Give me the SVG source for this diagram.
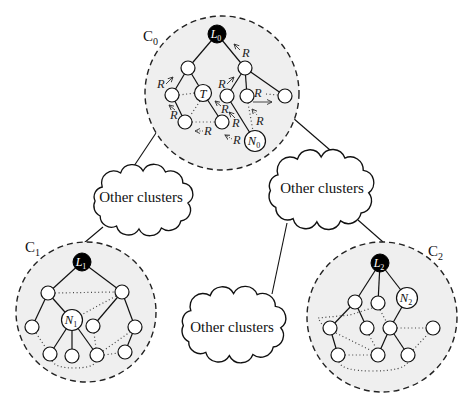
<svg xmlns="http://www.w3.org/2000/svg" width="474" height="410" viewBox="0 0 474 410">
<style>
.cl{fill:#efefef;stroke:#222;stroke-width:1.4;stroke-dasharray:6 4}
.e{stroke:#111;stroke-width:1.2;fill:none}
.d{stroke:#444;stroke-width:1.2;stroke-dasharray:1 2.6;fill:none}
.c{stroke:#111;stroke-width:1.1;fill:none}
.n{fill:#fff;stroke:#111;stroke-width:1.2}
.b{fill:#000;stroke:#000}
.cloud{fill:#fff;stroke:#111;stroke-width:1.3}
.t{font-family:"Liberation Serif","DejaVu Serif",serif;fill:#111}
.i{font-style:italic}
.w{fill:#fff}
.r{font-family:"Liberation Serif","DejaVu Serif",serif;font-style:italic;font-size:12.5px;fill:#222}
.ar{stroke:#333;stroke-width:0.9;fill:none;marker-end:url(#ah)}
.ard{stroke:#333;stroke-width:0.9;fill:none;stroke-dasharray:1 1.5;marker-end:url(#ah)}
</style>
<defs>
<marker id="ah" markerWidth="6" markerHeight="6" refX="5" refY="3" orient="auto" markerUnits="userSpaceOnUse">
<path d="M0,0.5 L5,3 L0,5.5" fill="none" stroke="#333" stroke-width="0.9"/>
</marker>
<path id="cloudshape" d="M12,24 A12,12 0 0 1 30,10 A12,12 0 0 1 52,8 A12,12 0 0 1 74,9 A12,12 0 0 1 91,20 A11,11 0 0 1 96,40 A11,11 0 0 1 89,58 A12,12 0 0 1 70,65 A12,12 0 0 1 48,66 A12,12 0 0 1 26,63 A11,11 0 0 1 10,53 A11,11 0 0 1 5,38 A10,10 0 0 1 12,24 Z"/>
</defs>

<g id="connectors">
<line class="c" x1="156" y1="133" x2="134" y2="166"/>
<line class="c" x1="293" y1="118" x2="330" y2="150"/>
<line class="c" x1="103" y1="227" x2="84" y2="243"/>
<line class="c" x1="287" y1="223" x2="272" y2="294"/>
<line class="c" x1="358" y1="220" x2="383" y2="242"/>
</g>

<g id="cluster-C0">
<circle class="cl" cx="222" cy="93" r="77"/>
<text class="t" x="143" y="41" font-size="15">C<tspan font-size="10" dy="4">0</tspan></text>
<g class="e">
<line x1="217" y1="34" x2="188" y2="68"/>
<line x1="217" y1="34" x2="245" y2="68"/>
<line x1="188" y1="68" x2="172" y2="95"/>
<line x1="188" y1="68" x2="203" y2="93"/>
<line x1="245" y1="68" x2="227" y2="96"/>
<line x1="245" y1="68" x2="247" y2="96"/>
<line x1="245" y1="68" x2="285" y2="96"/>
<line x1="172" y1="95" x2="185" y2="122"/>
<line x1="203" y1="93" x2="222" y2="122"/>
<line x1="227" y1="96" x2="255" y2="141"/>
</g>
<g class="d">
<line x1="179" y1="95" x2="195" y2="93"/>
<line x1="200" y1="101" x2="190" y2="116"/>
<line x1="192" y1="122" x2="215" y2="122"/>
<line x1="248" y1="103" x2="253" y2="131"/>
<line x1="266" y1="94" x2="278" y2="95"/>
</g>
<g id="c0-nodes">
<circle class="b" cx="217" cy="34" r="9"/>
<text class="t i w" x="216" y="38" font-size="12" text-anchor="middle">L<tspan font-size="8" dy="3" font-style="normal">0</tspan></text>
<circle class="n" cx="188" cy="68" r="7"/>
<circle class="n" cx="245" cy="68" r="7"/>
<circle class="n" cx="172" cy="95" r="7"/>
<circle class="n" cx="203" cy="93" r="8.5"/>
<text class="t i" x="203" y="97.5" font-size="12.5" text-anchor="middle">T</text>
<circle class="n" cx="227" cy="96" r="7"/>
<circle class="n" cx="247" cy="96" r="7"/>
<circle class="n" cx="285" cy="96" r="7"/>
<circle class="n" cx="185" cy="122" r="7"/>
<circle class="n" cx="222" cy="122" r="7"/>
<circle class="n" cx="255" cy="141" r="10.5"/>
<text class="t i" x="254" y="145" font-size="12.5" text-anchor="middle">N<tspan font-size="8" dy="3" font-style="normal">0</tspan></text>
</g>
<g id="c0-R">
<line class="ar" x1="240" y1="50" x2="234" y2="44"/>
<text class="r" x="242" y="57">R</text>
<text class="r" x="157" y="88">R</text>
<line class="ar" x1="166" y1="84" x2="173" y2="77"/>
<text class="r" x="218" y="88">R</text>
<line class="ar" x1="227" y1="84" x2="234" y2="77"/>
<text class="r" x="254" y="97">R</text>
<line class="ar" x1="253" y1="102" x2="272" y2="102"/>
<text class="r" x="170" y="119">R</text>
<line class="ar" x1="175" y1="110" x2="169" y2="105"/>
<text class="r" x="204" y="135">R</text>
<line class="ard" x1="203" y1="131" x2="195" y2="131"/>
<text class="r" x="221" y="113">R</text>
<line class="ar" x1="221" y1="106" x2="215" y2="101"/>
<text class="r" x="232" y="127">R</text>
<line class="ar" x1="235" y1="118" x2="229" y2="112"/>
<text class="r" x="256" y="125">R</text>
<line class="ard" x1="257" y1="115" x2="252" y2="109"/>
<text class="r" x="233" y="144">R</text>
<line class="ard" x1="232" y1="139" x2="225" y2="135"/>
</g>
</g>

<g id="cloud-1">
<use href="#cloudshape" class="cloud" transform="translate(90,163) scale(1.02,1)"/>
<text class="t" x="141" y="202" font-size="15" text-anchor="middle">Other clusters</text>
</g>
<g id="cloud-2">
<use href="#cloudshape" class="cloud" transform="translate(265,148) scale(1.08,1.12)"/>
<text class="t" x="322" y="193" font-size="15" text-anchor="middle">Other clusters</text>
</g>
<g id="cloud-3">
<use href="#cloudshape" class="cloud" transform="translate(178,285) scale(1.07,1.07)"/>
<text class="t" x="232" y="332" font-size="15" text-anchor="middle">Other clusters</text>
</g>

<g id="cluster-C1">
<circle class="cl" cx="86" cy="312" r="70"/>
<text class="t" x="25" y="252" font-size="15">C<tspan font-size="10" dy="4">1</tspan></text>
<g class="e">
<line x1="82" y1="262" x2="48" y2="293"/>
<line x1="82" y1="262" x2="122" y2="292"/>
<line x1="48" y1="293" x2="32" y2="327"/>
<line x1="48" y1="293" x2="72" y2="320"/>
<line x1="72" y1="320" x2="50" y2="354"/>
<line x1="72" y1="320" x2="72" y2="356"/>
<line x1="72" y1="320" x2="97" y2="355"/>
<line x1="122" y1="292" x2="93" y2="326"/>
<line x1="122" y1="292" x2="135" y2="327"/>
<line x1="135" y1="327" x2="125" y2="352"/>
</g>
<g class="d">
<line x1="55" y1="293" x2="115" y2="292"/>
<line x1="116" y1="296" x2="81" y2="315"/>
<line x1="36" y1="333" x2="46" y2="348"/>
<line x1="94" y1="333" x2="96" y2="348"/>
<line x1="103" y1="351" x2="130" y2="332"/>
<line x1="104" y1="355" x2="118" y2="353"/>
<path d="M52,361 Q56,368 74,368 Q92,368 96,362"/>
</g>
<circle class="b" cx="82" cy="262" r="9"/>
<text class="t i w" x="81" y="266" font-size="12" text-anchor="middle">L<tspan font-size="8" dy="3" font-style="normal">1</tspan></text>
<circle class="n" cx="48" cy="293" r="7"/>
<circle class="n" cx="122" cy="292" r="7"/>
<circle class="n" cx="32" cy="327" r="7"/>
<circle class="n" cx="72" cy="320" r="10.5"/>
<text class="t i" x="71" y="324" font-size="12.5" text-anchor="middle">N<tspan font-size="8" dy="3" font-style="normal">1</tspan></text>
<circle class="n" cx="93" cy="326" r="7"/>
<circle class="n" cx="135" cy="327" r="7"/>
<circle class="n" cx="50" cy="354" r="7"/>
<circle class="n" cx="72" cy="356" r="7"/>
<circle class="n" cx="97" cy="355" r="7"/>
<circle class="n" cx="125" cy="352" r="7"/>
</g>

<g id="cluster-C2">
<circle class="cl" cx="382" cy="317" r="75"/>
<text class="t" x="428" y="256" font-size="15">C<tspan font-size="10" dy="4">2</tspan></text>
<g class="e">
<line x1="380" y1="263" x2="355" y2="302"/>
<line x1="380" y1="263" x2="378" y2="303"/>
<line x1="380" y1="263" x2="407" y2="298"/>
<line x1="355" y1="302" x2="330" y2="328"/>
<line x1="355" y1="302" x2="367" y2="328"/>
<line x1="407" y1="298" x2="390" y2="328"/>
<line x1="330" y1="328" x2="338" y2="355"/>
<line x1="390" y1="328" x2="378" y2="355"/>
<line x1="390" y1="328" x2="408" y2="355"/>
</g>
<g class="d">
<path d="M372,308 L350,315 L318,318 L323,326"/>
<line x1="380" y1="310" x2="386" y2="321"/>
<line x1="397" y1="328" x2="426" y2="328"/>
<line x1="336" y1="333" x2="372" y2="351"/>
<line x1="369" y1="335" x2="376" y2="348"/>
<line x1="345" y1="355" x2="371" y2="355"/>
<line x1="413" y1="350" x2="428" y2="334"/>
<path d="M339,362 Q342,371 372,371 Q404,371 408,362"/>
</g>
<circle class="b" cx="380" cy="263" r="9"/>
<text class="t i w" x="379" y="267" font-size="12" text-anchor="middle">L<tspan font-size="8" dy="3" font-style="normal">2</tspan></text>
<circle class="n" cx="355" cy="302" r="7"/>
<circle class="n" cx="378" cy="303" r="7"/>
<circle class="n" cx="407" cy="298" r="10.5"/>
<text class="t i" x="406" y="302" font-size="12.5" text-anchor="middle">N<tspan font-size="8" dy="3" font-style="normal">2</tspan></text>
<circle class="n" cx="330" cy="328" r="7"/>
<circle class="n" cx="367" cy="328" r="7"/>
<circle class="n" cx="390" cy="328" r="7"/>
<circle class="n" cx="433" cy="328" r="7"/>
<circle class="n" cx="338" cy="355" r="7"/>
<circle class="n" cx="378" cy="355" r="7"/>
<circle class="n" cx="408" cy="355" r="7"/>
</g>
</svg>
